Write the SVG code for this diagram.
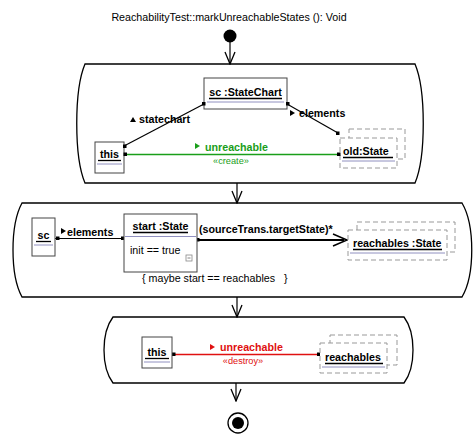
<svg xmlns="http://www.w3.org/2000/svg" width="474" height="440" viewBox="0 0 474 440">
<style>
.t{font-family:"Liberation Sans",Arial,sans-serif;font-size:10.7px;fill:#000}
.b{font-weight:bold}
.c{text-anchor:middle}
.act{fill:#fff;stroke:#000;stroke-width:1.3}
.obj{fill:#fff;stroke:#444;stroke-width:1}
.ms{fill:#fff;stroke:#999;stroke-width:1;stroke-dasharray:5 3}
.sep{stroke:#9090c0;stroke-width:1}
.ul{stroke:#000;stroke-width:1.3}
.ln{stroke:#000;stroke-width:1.2;fill:none}
.flow{stroke:#000;stroke-width:1.2;fill:none}
.end{fill:#000}
</style>
<defs>
<marker id="open" markerWidth="14" markerHeight="12" refX="13" refY="6" orient="auto" markerUnits="userSpaceOnUse">
<path d="M1,1 L13,6 L1,11" fill="none" stroke="#000" stroke-width="1.3"/>
</marker>
</defs>

<text class="t" x="229" y="21" text-anchor="middle">ReachabilityTest::markUnreachableStates (): Void</text>

<g id="start">
<circle cx="230" cy="36" r="6.5" fill="#000"/>
</g>

<g id="activity1">
<path class="act" d="M85,64 H415 C426,90 426,157 415,183 H85 C74,157 74,90 85,64 Z"/>
</g>
<g id="activity2">
<path class="act" d="M22,203 H462 C475,225 475,275 462,297 H22 C10,275 10,225 22,203 Z"/>
</g>
<g id="activity3">
<path class="act" d="M113,317 H404 C416,333 416,367 404,383 H113 C101,367 101,333 113,317 Z"/>
</g>
<g id="end">
<circle cx="238" cy="423" r="10" fill="#fff" stroke="#000" stroke-width="1.3"/>
<circle cx="238" cy="423" r="6" fill="#000"/>
</g>

<g id="flows">
<line class="flow" x1="230" y1="42" x2="230" y2="64" marker-end="url(#open)"/>
<line class="flow" x1="237" y1="183" x2="237" y2="203" marker-end="url(#open)"/>
<line class="flow" x1="237" y1="297" x2="237" y2="317" marker-end="url(#open)"/>
<line class="flow" x1="236" y1="383" x2="236" y2="401" marker-end="url(#open)"/>
</g>

<!-- activity 1 objects -->
<g id="a1_sc">
<rect class="obj" x="204" y="78" width="83" height="31"/>
<text class="t b c" x="245.5" y="96">sc :StateChart</text>
<line class="ul" x1="209" y1="98.5" x2="282" y2="98.5"/>
<line class="sep" x1="207" y1="102" x2="284" y2="102"/>
</g>
<g id="a1_this">
<rect class="obj" x="95" y="142" width="29" height="31"/>
<text class="t b c" x="109.5" y="158">this</text>
<line class="ul" x1="98" y1="160.5" x2="121" y2="160.5"/>
<line class="sep" x1="97" y1="164" x2="122" y2="164"/>
</g>
<g id="a1_old">
<rect class="ms" x="349" y="129" width="56" height="30"/>
<rect class="ms" x="340" y="138" width="57" height="30"/>
<text class="t b" x="343" y="155">old:State</text>
<line class="ul" x1="343" y1="157.5" x2="393" y2="157.5"/>
<line class="sep" x1="342" y1="161" x2="395" y2="161"/>
</g>

<g id="connectors">
<!-- activity 1 -->
<line class="ln" x1="124" y1="146" x2="204" y2="104"/>
<rect x="123" y="144.5" width="3.5" height="3.5" class="end"/>
<rect x="202" y="102" width="3.5" height="3.5" class="end"/>
<path d="M130,122 L133,117 L136,122 Z" class="end"/>
<text class="t b" x="139" y="123">statechart</text>

<line class="ln" x1="287" y1="104" x2="338" y2="133"/>
<rect x="286" y="102" width="3.5" height="3.5" class="end"/>
<rect x="336" y="131.5" width="3.5" height="3.5" class="end"/>
<path d="M290,110 L295,113 L290,116 Z" class="end"/>
<text class="t b" x="299" y="117">elements</text>

<line x1="124" y1="154.5" x2="340" y2="154.5" stroke="#1a9e1a" stroke-width="1.5"/>
<rect x="123.5" y="152.5" width="3.5" height="3.5" class="end"/>
<rect x="337" y="152.5" width="3.5" height="3.5" class="end"/>
<path d="M195,143 L200,146 L195,149 Z" fill="#1a9e1a"/>
<text class="t b" x="205" y="151" style="fill:#1a9e1a">unreachable</text>
<text class="t c" x="231" y="164" style="fill:#1a9e1a;font-size:9.2px">«create»</text>

<!-- activity 2 -->
<line class="ln" x1="55" y1="238.5" x2="124" y2="238.5" stroke-width="1.5"/>
<rect x="56" y="236.5" width="3.5" height="3.5" class="end"/>
<rect x="121" y="236.5" width="3.5" height="3.5" class="end"/>
<path d="M61,228 L66,231 L61,234 Z" class="end"/>
<text class="t b" x="67" y="236">elements</text>

<line x1="197" y1="240" x2="344" y2="240" stroke="#000" stroke-width="2.2"/>
<path d="M333,234 L347,240 L333,246" fill="none" stroke="#000" stroke-width="1.5"/>
<rect x="196" y="238" width="3.5" height="3.5" class="end"/>
<text class="t b" x="199" y="233">(sourceTrans.targetState)*</text>
<text class="t" x="142" y="282" xml:space="preserve">{ maybe start == reachables &#160; }</text>

<!-- activity 3 -->
<line x1="172" y1="354.5" x2="320" y2="354.5" stroke="#e01010" stroke-width="1.3"/>
<rect x="172" y="352.5" width="3.5" height="3.5" class="end"/>
<rect x="317" y="352.5" width="3.5" height="3.5" class="end"/>
<path d="M210,344 L215,347 L210,350 Z" fill="#e01010"/>
<text class="t b" x="220" y="351" style="fill:#e01010">unreachable</text>
<text class="t c" x="243" y="364" style="fill:#e01010;font-size:9.2px">«destroy»</text>
</g>

<!-- activity 2 objects -->
<g id="a2_sc">
<rect class="obj" x="32" y="218" width="23" height="38"/>
<text class="t b c" x="43.5" y="239">sc</text>
<line class="ul" x1="36" y1="241.5" x2="51" y2="241.5"/>
<line class="sep" x1="34" y1="245" x2="53" y2="245"/>
</g>
<g id="a2_start">
<rect class="obj" x="124" y="214" width="73" height="58"/>
<text class="t b c" x="160.5" y="230">start :State</text>
<line class="ul" x1="133" y1="232.5" x2="188" y2="232.5"/>
<line class="sep" x1="125" y1="236.5" x2="196" y2="236.5"/>
<text class="t" x="130" y="254">init == true</text>
<rect x="186" y="255" width="6" height="6" fill="#fff" stroke="#888" stroke-width="0.8"/>
<line x1="187.5" y1="258" x2="190.5" y2="258" stroke="#666" stroke-width="0.8"/>
</g>
<g id="a2_reach">
<rect class="ms" x="357" y="222" width="98" height="30"/>
<rect class="ms" x="348" y="230" width="99" height="30"/>
<text class="t b" x="353" y="247">reachables :State</text>
<line class="ul" x1="353" y1="249.5" x2="442" y2="249.5"/>
<line class="sep" x1="350" y1="253" x2="445" y2="253"/>
</g>

<!-- activity 3 objects -->
<g id="a3_this">
<rect class="obj" x="142" y="337" width="30" height="31"/>
<text class="t b c" x="157" y="356">this</text>
<line class="ul" x1="145" y1="358.5" x2="169" y2="358.5"/>
<line class="sep" x1="144" y1="362" x2="170" y2="362"/>
</g>
<g id="a3_reach">
<rect class="ms" x="330" y="335" width="67" height="30"/>
<rect class="ms" x="320" y="343" width="67" height="30"/>
<text class="t b" x="325" y="361">reachables</text>
<line class="ul" x1="325" y1="363.5" x2="383" y2="363.5"/>
<line class="sep" x1="322" y1="367" x2="385" y2="367"/>
</g>
</svg>
